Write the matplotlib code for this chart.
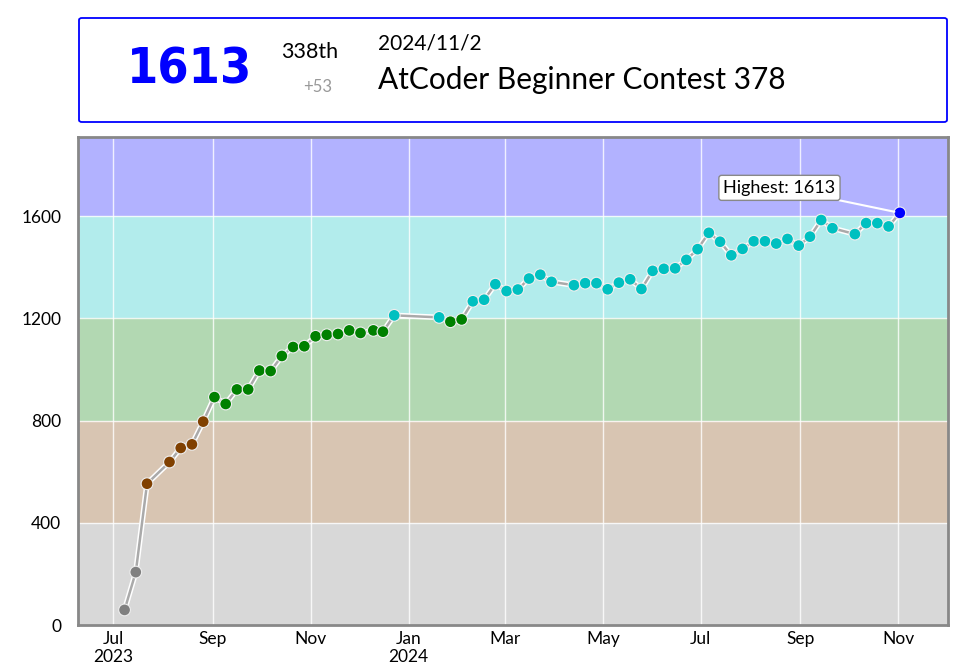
import datetime as dt
import matplotlib
matplotlib.use("Agg")
import matplotlib.pyplot as plt
import matplotlib.patheffects as pe
from matplotlib import font_manager as fm
from matplotlib.patches import FancyBboxPatch

plt.rcParams['font.family'] = ['Lato', 'DejaVu Sans']

# contest dates and ratings
dates = ["2023-07-08", "2023-07-15", "2023-07-22", "2023-08-05", "2023-08-12", "2023-08-19",
         "2023-08-26", "2023-09-02", "2023-09-09", "2023-09-16", "2023-09-23", "2023-09-30",
         "2023-10-07", "2023-10-14", "2023-10-21", "2023-10-28", "2023-11-04", "2023-11-11",
         "2023-11-18", "2023-11-25", "2023-12-02", "2023-12-10", "2023-12-16", "2023-12-23",
         "2024-01-20", "2024-01-27", "2024-02-03", "2024-02-10", "2024-02-17", "2024-02-24",
         "2024-03-02", "2024-03-09", "2024-03-16", "2024-03-23", "2024-03-30", "2024-04-13",
         "2024-04-20", "2024-04-27", "2024-05-04", "2024-05-11", "2024-05-18", "2024-05-25",
         "2024-06-01", "2024-06-08", "2024-06-15", "2024-06-22", "2024-06-29", "2024-07-06",
         "2024-07-13", "2024-07-20", "2024-07-27", "2024-08-03", "2024-08-10", "2024-08-17",
         "2024-08-24", "2024-08-31", "2024-09-07", "2024-09-14", "2024-09-21", "2024-10-05",
         "2024-10-12", "2024-10-19", "2024-10-26", "2024-11-02"]
ratings = [59, 207, 553, 638, 693, 707, 796, 892, 865, 922, 922, 996,
           994, 1053, 1088, 1091, 1130, 1136, 1139, 1153, 1143, 1153, 1148, 1212,
           1204, 1187, 1196, 1267, 1273, 1334, 1307, 1313, 1356, 1371, 1343, 1330,
           1338, 1338, 1314, 1340, 1353, 1315, 1386, 1394, 1396, 1429, 1471, 1535,
           1500, 1447, 1472, 1502, 1502, 1493, 1511, 1485, 1520, 1585, 1553, 1530,
           1573, 1573, 1560, 1613]

band_edges = [0, 400, 800, 1200, 1600, 1910]
band_colors = ['#D8D8D8', '#D8C5B2', '#B2D8B2', '#B2ECEC', '#B2B2FF']
point_colors = ['#808080', '#804000', '#008000', '#00C0C0', '#0000FF']

x = [dt.datetime.strptime(d, "%Y-%m-%d") for d in dates]


def rank_color(r):
    for i in range(len(point_colors)):
        if r < band_edges[i + 1]:
            return point_colors[i]
    return point_colors[-1]


fig = plt.figure(figsize=(9.58, 6.69), dpi=100)
W, H = 958, 669
ax = fig.add_axes([78 / W, 1 - 625 / H, 870 / W, 488 / H])

xmin = dt.datetime(2023, 6, 9)
xmax = dt.datetime(2024, 12, 2)
for i in range(len(band_colors)):
    ax.axhspan(band_edges[i], band_edges[i + 1], color=band_colors[i], lw=0, zorder=0)
ax.set_xlim(xmin, xmax)
ax.set_ylim(0, band_edges[-1])

ax.set_yticks([0, 400, 800, 1200, 1600])
ticks = [dt.datetime(2023, 7, 1), dt.datetime(2023, 9, 1), dt.datetime(2023, 11, 1),
         dt.datetime(2024, 1, 1), dt.datetime(2024, 3, 1), dt.datetime(2024, 5, 1),
         dt.datetime(2024, 7, 1), dt.datetime(2024, 9, 1), dt.datetime(2024, 11, 1)]
ax.set_xticks(ticks)
ax.set_xticklabels(["Jul\n2023", "Sep", "Nov", "Jan\n2024", "Mar", "May", "Jul", "Sep", "Nov"])
ax.tick_params(length=0, labelsize=12.5, pad=4)
ax.tick_params(axis='y', pad=12)
ax.grid(True, color='white', lw=1, alpha=0.8, zorder=1)
ax.set_axisbelow(True)
for s in ax.spines.values():
    s.set_color('#888888')
    s.set_linewidth(2)

ax.plot(x, ratings, color='#AAAAAA', lw=1.8, zorder=3,
        path_effects=[pe.Stroke(linewidth=4, foreground='white'), pe.Normal()])
ax.scatter(x, ratings, s=72, c=[rank_color(r) for r in ratings],
           edgecolors='#EEEEEE', linewidths=0.8, zorder=4)

# highest label
ax.annotate("Highest: 1613", xy=(x[-1], ratings[-1]), xytext=(dt.datetime(2024, 8, 19), 1711),
            ha='center', va='center', fontsize=13, zorder=5,
            bbox=dict(boxstyle='round,pad=0.25,rounding_size=0.15', fc='white', ec='#888888', lw=1),
            arrowprops=dict(arrowstyle='-', color='white', lw=1.5, shrinkA=0, shrinkB=4))

# header box
box = FancyBboxPatch((79 / W, 1 - 122 / H), 868 / W, 104 / H,
                     boxstyle='round,pad=0,rounding_size=0.003', transform=fig.transFigure,
                     fc='white', ec='#0000FF', lw=1.3)
fig.patches.append(box)
big_font = fm.FontProperties(family='DejaVu Sans', weight='bold', stretch='condensed', size=36)
fig.text(190 / W, 1 - 70 / H, "1613", color='#0000FF', fontproperties=big_font,
         ha='center', va='center')
fig.text(310 / W, 1 - 52 / H, "338th", fontsize=15.5, ha='center', va='center')
fig.text(318 / W, 1 - 87 / H, "+53", fontsize=12, color='#999999', ha='center', va='center')
fig.text(378 / W, 1 - 43 / H, "2024/11/2", fontsize=15, ha='left', va='center')
fig.text(378 / W, 1 - 80 / H, "AtCoder Beginner Contest 378", fontsize=21.5, ha='left', va='center')

fig.savefig("out.png", dpi=100)
